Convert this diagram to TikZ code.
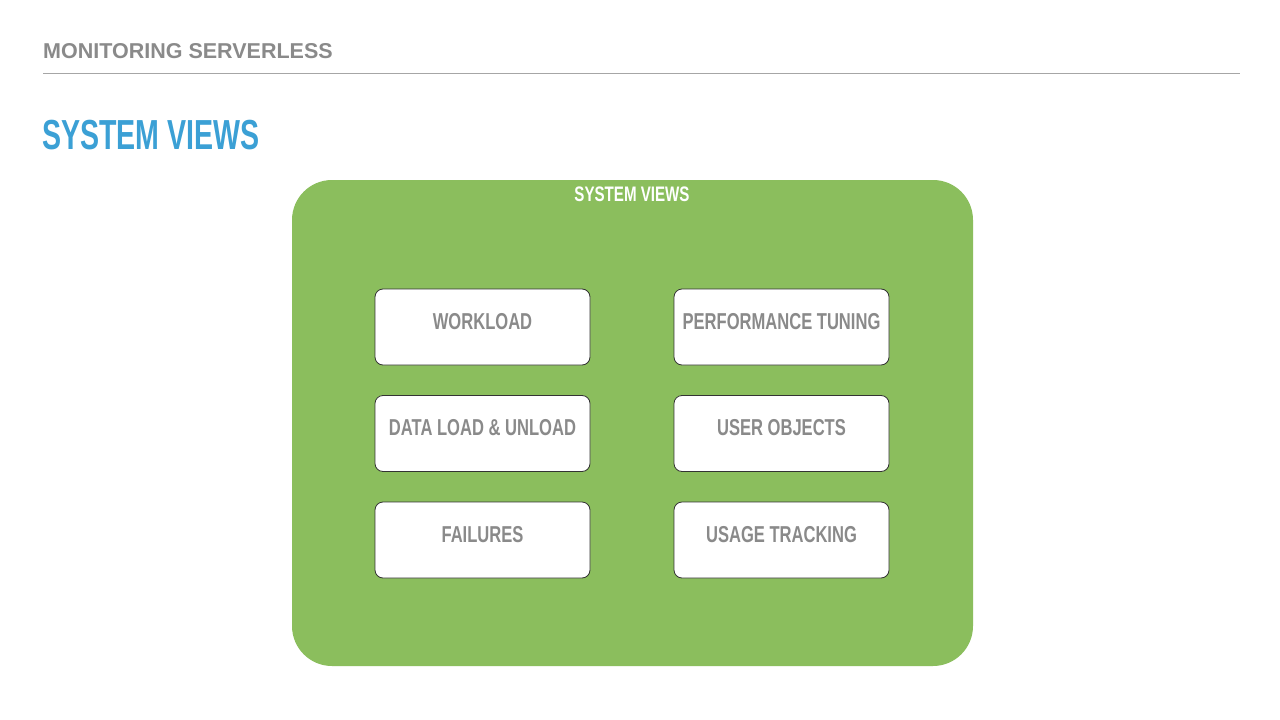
\documentclass[tikz,border=0pt]{standalone}
\usepackage{fontspec}
\setmainfont{Liberation Sans}
\newfontfamily\cond[FakeStretch=0.72]{Liberation Sans}
\newfontfamily\condt[FakeStretch=0.68]{Liberation Sans}
\definecolor{grn}{HTML}{8BBE5D}
\definecolor{txtg}{HTML}{8A8A8A}
\definecolor{blu}{HTML}{3BA0D5}
\begin{document}
\begin{tikzpicture}[x=1pt,y=-1pt,
  item/.style={draw=black!80,line width=0.8pt,fill=white,rounded corners=8,minimum width=215,minimum height=76,inner sep=0},
  lbl/.style={anchor=base,inner sep=0,text=txtg,font=\cond\fontsize{23}{26}\selectfont\bfseries}]
\useasboundingbox (0,0) rectangle (1280,720);
\fill[white] (0,0) rectangle (1280,720);
\node[anchor=base west,inner sep=0,text=txtg,font=\fontsize{21.5}{24}\selectfont\bfseries] (hdr) at (43,58) {MONITORING SERVERLESS};
\draw[gray!70] (43,73) -- (1240,73);
\node[anchor=base west,inner sep=0,text=blu,font=\condt\fontsize{42}{50}\selectfont\bfseries] (ttl) at (42,149) {SYSTEM VIEWS};
\fill[grn,rounded corners=40] (292,180) rectangle (973,666);
\node[anchor=base,inner sep=0,text=white,font=\cond\fontsize{21}{24}\selectfont\bfseries] (inner) at (632,201) {SYSTEM VIEWS};
\foreach \n/\t/\x/\y in {a/WORKLOAD/482.5/327, b/PERFORMANCE TUNING/781.5/327, c/DATA LOAD \& UNLOAD/482.5/433.5, d/USER OBJECTS/781.5/433.5, e/FAILURES/482.5/540, f/USAGE TRACKING/781.5/540}{
  \node[item] (\n) at (\x,\y) {};
  \node[lbl] (\n t) at (\x,\y+2) {\t};
}
\end{tikzpicture}
\end{document}
